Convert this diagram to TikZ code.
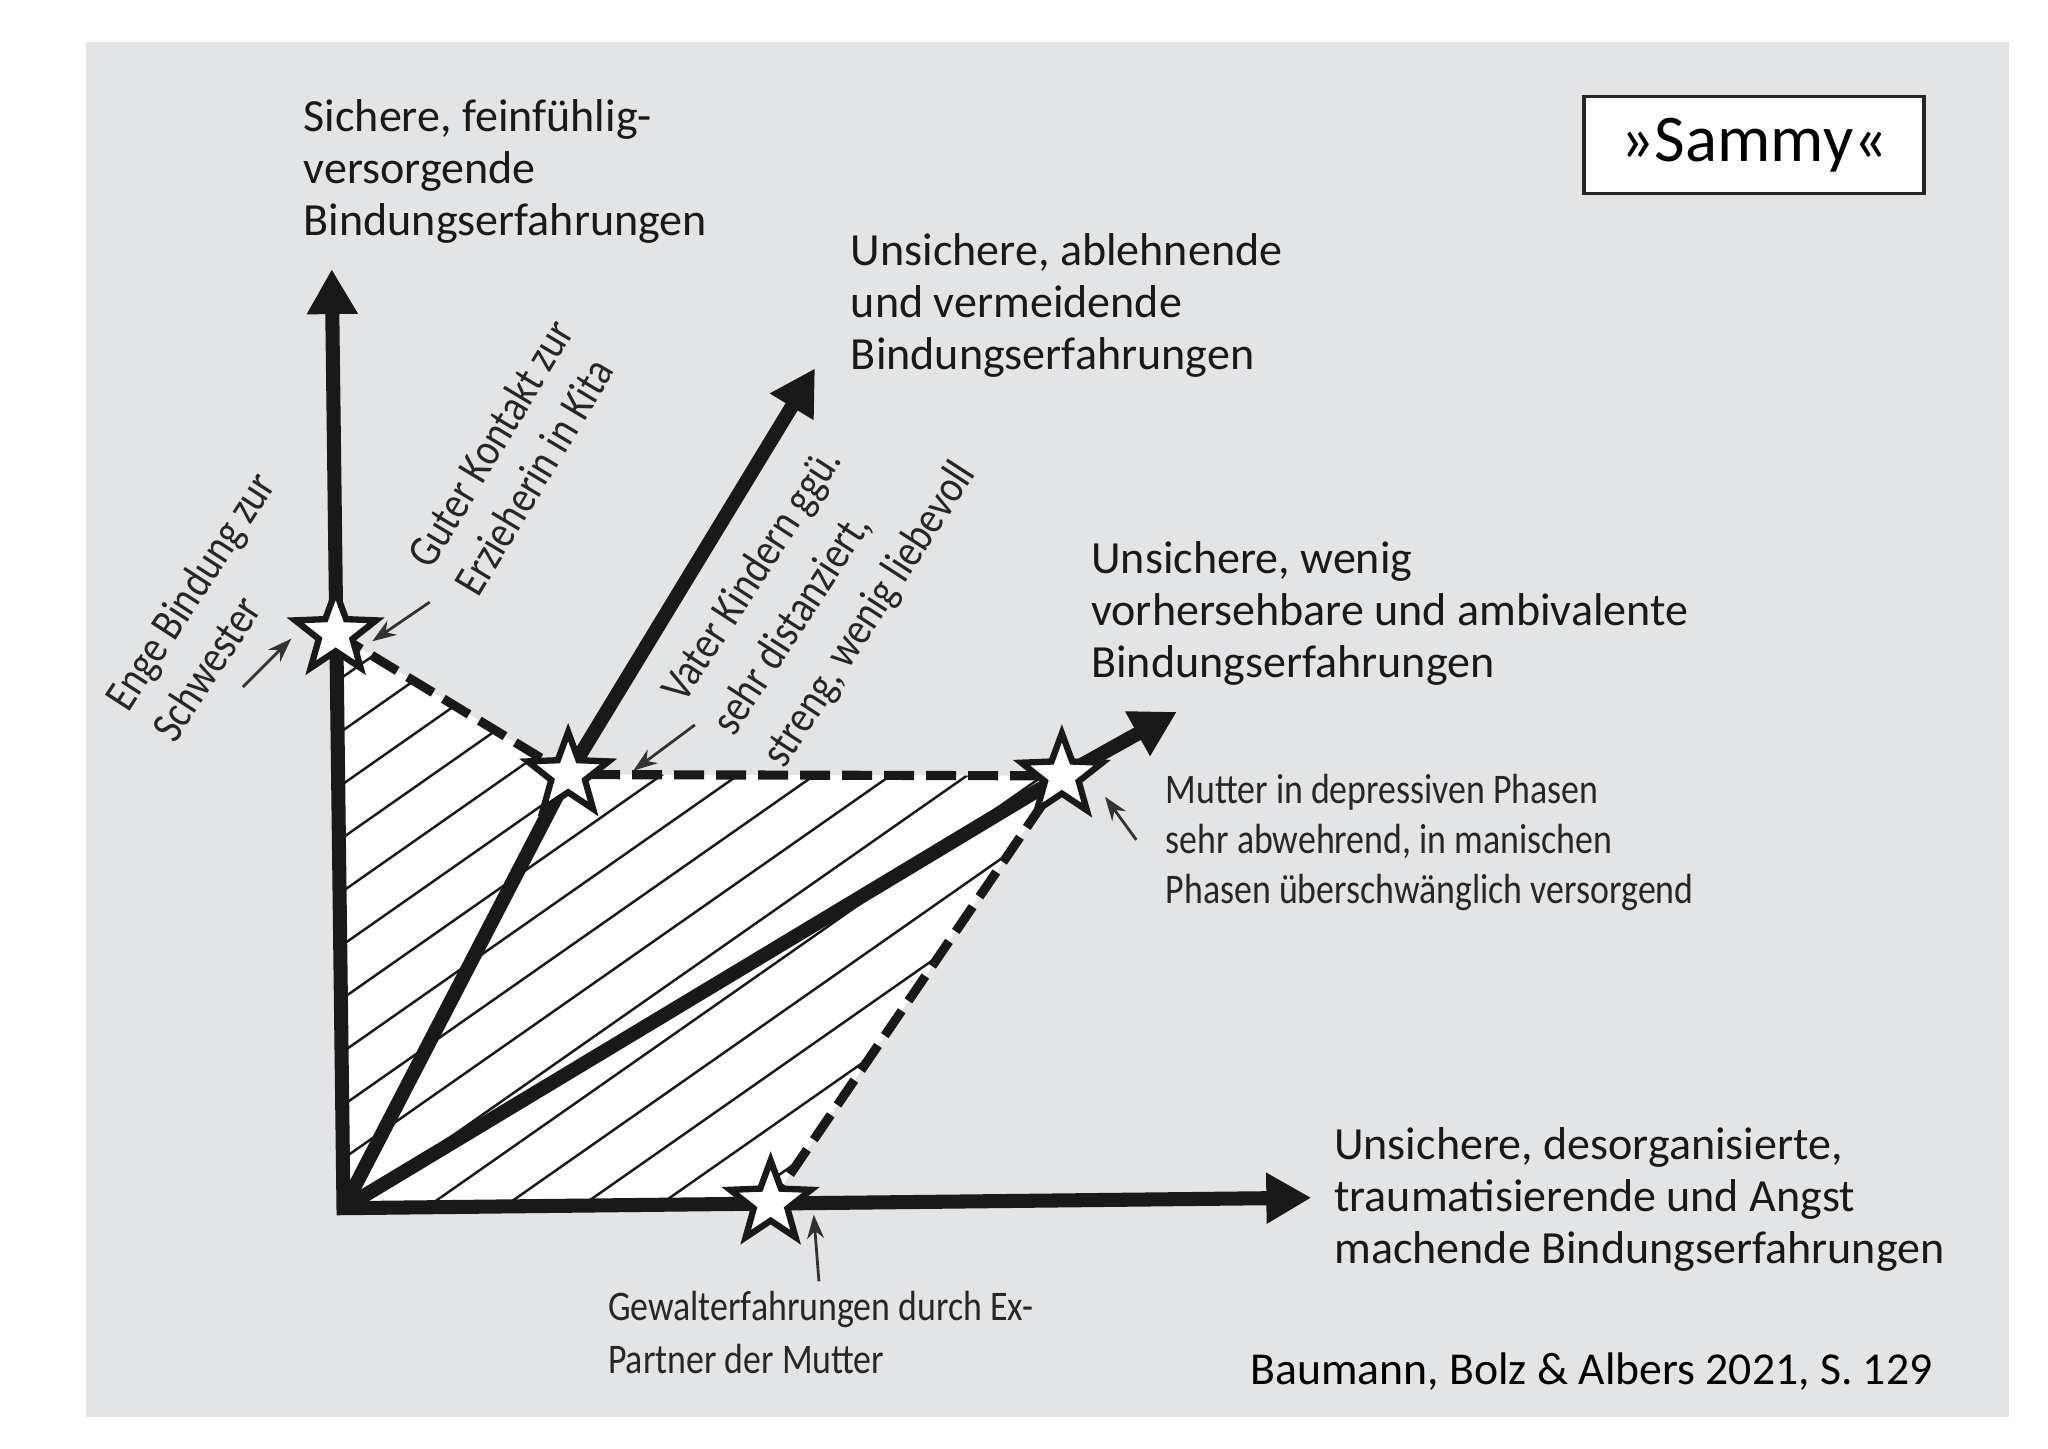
\documentclass[tikz,border=0pt]{standalone}
\usepackage{fontspec}
\setmainfont{Carlito}
\newfontfamily\handfont{Carlito}[FakeStretch=0.85]
\definecolor{panelgray}{RGB}{226,228,229}
\usetikzlibrary{shapes.geometric,arrows.meta,positioning}

\begin{document}
\begin{tikzpicture}[
    x=0.01306cm, y=-0.01306cm,
    axis/.style={line width=4pt, black!90, -{Triangle[length=0.45cm, width=0.48cm]}},
    link/.style={line width=2.6pt, black!90, dash pattern=on 0.3cm off 0.12cm},
    hatch/.style={line width=0.7pt, black!90},
    starmark/.style={star, star points=5, star point ratio=2.4, minimum size=0.85cm,
        inner sep=0pt, fill=white, draw=black!90, line width=1.8pt},
    axlabel/.style={anchor=west, align=left, inner sep=0pt, text=black!90,
        font=\fontsize{13.1}{14.8}\selectfont},
    hand/.style={align=left, inner sep=0pt, text=black!85,
        font=\handfont\fontsize{12}{15}\selectfont},
    note/.style={-{Stealth[length=2.4mm, width=1.7mm]}, line width=0.8pt, black!80}
  ]
  \useasboundingbox (0,0) rectangle (1568,1109);
  \fill[panelgray] (66,32) rectangle (1538,1085);

  \coordinate (O) at (263,925);
  \coordinate (T1) at (254,206);
  \coordinate (T2) at (624,282);
  \coordinate (T3) at (901,545);
  \coordinate (T4) at (1004,917);
  \coordinate (p1) at (257,485);
  \coordinate (p2) at (435,593);
  \coordinate (p3) at (813,594);
  \coordinate (p4) at (590,921);

  \begin{scope}
    \clip (O) -- (p1) -- (p2) -- (p3) -- (p4) -- cycle;
    \fill[white] (0,0) rectangle (1568,1109);
    \foreach \c in {480,521,...,1400}
      \draw[hatch] (200,\c) -- ++(1000,-700);
  \end{scope}

  \draw[axis, {Triangle[length=0.45cm, width=0.48cm]}-{Triangle[length=0.45cm, width=0.48cm]}]
    (T1) -- (O) -- (T4);
  \draw[axis] (O) -- (p2) -- (T2);
  \draw[axis] (O) -- (p3) -- (T3);

  \draw[link] (p1) -- (p2) -- (p3) -- (p4);

  \node[starmark] (s1) at (p1) {};
  \node[starmark] (s2) at (p2) {};
  \node[starmark] (s3) at (p3) {};
  \node[starmark] (s4) at (p4) {};

  \node[axlabel] (lsec) at (232,131) {Sichere, feinfühlig-\\versorgende\\Bindungserfahrungen};
  \node[axlabel] (lavo) at (651,234) {Unsichere, ablehnende\\und vermeidende\\Bindungserfahrungen};
  \node[axlabel] (lamb) at (835,470) {Unsichere, wenig\\vorhersehbare und ambivalente\\Bindungserfahrungen};
  \node[axlabel] (ldes) at (1021,918) {Unsichere, desorganisierte,\\traumatisierende und Angst\\machende Bindungserfahrungen};

  \node[draw=black!85, line width=1pt, fill=white, minimum width=3.4cm, minimum height=0.97cm,
    font=\fontsize{19}{19}\selectfont] (name) at (1343,111) {»Sammy«};
  \node[anchor=west, inner sep=0pt, font=\fontsize{13}{15}\selectfont] (cite) at (957,1050)
    {Baumann, Bolz \& Albers 2021, S. 129};

  \node[hand, rotate=57, font=\handfont\fontsize{13}{16}\selectfont] (nenge) at (163,464)
    {Enge Bindung zur\\Schwester};
  \node[hand, rotate=59, font=\handfont\fontsize{13}{15.5}\selectfont] (nguter) at (393,350)
    {Guter Kontakt zur\\Erzieherin in Kita};
  \node[hand, rotate=57, font=\handfont\fontsize{13}{17}\selectfont] (nvater) at (628,446)
    {Vater Kindern ggü.\\sehr distanziert,\\streng, wenig liebevoll};
  \node[hand, anchor=west, font=\handfont\fontsize{12}{14.2}\selectfont] (nmutter) at (892,645)
    {Mutter in depressiven Phasen\\sehr abwehrend, in manischen\\Phasen überschwänglich versorgend};
  \node[hand, anchor=west] (ngewalt) at (465,1020) {Gewalterfahrungen durch Ex-\\Partner der Mutter};

  \coordinate (e1) at (186,526); \coordinate (f1) at (223,489);
  \coordinate (e2) at (329,461); \coordinate (f2) at (285,491);
  \coordinate (e3) at (532,555); \coordinate (f3) at (485,590);
  \coordinate (e4) at (870,643); \coordinate (f4) at (846,610);
  \coordinate (e5) at (627,981); \coordinate (f5) at (623,930);
  \foreach \i in {1,...,5}
    \draw[note] (e\i) -- (f\i);
\end{tikzpicture}
\end{document}
